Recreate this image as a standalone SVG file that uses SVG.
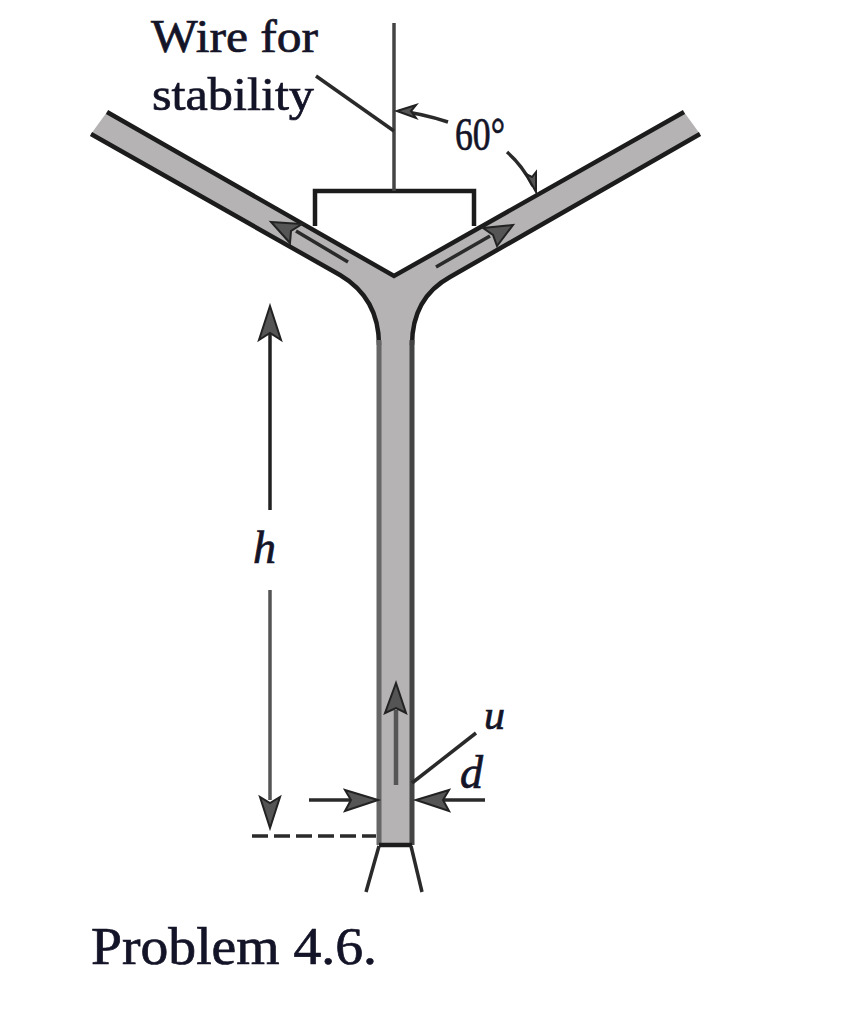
<svg xmlns="http://www.w3.org/2000/svg" width="843" height="1024" viewBox="0 0 843 1024">
<style>
.l{fill:none;stroke:#1c1c1c;stroke-width:4.5}
.t{fill:none;stroke:#2a2a2a;stroke-width:3.5}
.h{fill:#555;stroke:#222;stroke-width:2}
text{font-family:"Liberation Serif",serif;fill:#141428;stroke:#141428;stroke-width:.7}
</style>
<rect width="843" height="1024" fill="#fff"/>
<g id="nozzle-y">
<path d="M107 112L394 276L684 112L700 134L450 277Q412 298 412 345L412 845L379 845L379 345Q379 298 340 275L91 134Z" fill="#b5b3b3"/>
<path class="l" d="M107 112L394 276L684 112"/>
<path class="l" d="M91 134L340 275Q379 298 379 345"/>
<path class="l" d="M700 134L450 277Q412 298 412 345"/>
<path d="M379 340V845" stroke="#666" stroke-width="5" fill="none"/>
<path d="M412 340V845" stroke="#444" stroke-width="5" fill="none"/>
<path class="l" d="M379 845H412"/>
</g>
<g id="plate">
<path class="l" d="M315 226V191H474V226"/>
<path d="M394 23V191" stroke="#444" stroke-width="3.5" fill="none"/>
</g>
<g id="connectors">
<path class="t" d="M316 76L394 131"/>
<path class="t" d="M399 111Q420 113 448 122"/>
<path class="h" d="M397 111L416 105L411 111L416 118Z"/>
<path class="t" d="M507 152Q522 165 533 186"/>
<path class="h" d="M536 192L526 174L532 177L536 172Z"/>
<path class="t" d="M296 231L348 262"/>
<path class="h" d="M271 222L302 224L291 231L290 243Z"/>
<path class="t" d="M436 267L490 236"/>
<path class="h" d="M513 225L483 228L493 235L497 246Z"/>
<path d="M270 510V330" stroke="#222" stroke-width="3.5" fill="none"/>
<path class="h" d="M270 306L281 340L270 333L259 340Z"/>
<path d="M270 590V800" stroke="#555" stroke-width="3.5" fill="none"/>
<path class="h" d="M270 828L260 797L270 803L280 797Z"/>
<path d="M396 710V785" stroke="#555" stroke-width="4.5" fill="none"/>
<path class="h" d="M396 683L406 713L396 708L385 713Z"/>
<path class="t" d="M412 783L476 733"/>
<path class="t" d="M309 800H372"/>
<path class="h" d="M378 800L345 790L351 800L345 811Z"/>
<path class="t" d="M422 800H485"/>
<path class="h" d="M416 800L449 790L443 800L449 811Z"/>
<path class="t" d="M252 836H376" stroke-dasharray="16 6"/>
<path class="t" d="M379 846L366 892"/>
<path class="t" d="M411 846L422 892"/>
</g>
<g id="labels">
<text x="151" y="52" font-size="46" textLength="167" lengthAdjust="spacingAndGlyphs">Wire for</text>
<text x="152" y="110" font-size="46" textLength="162" lengthAdjust="spacingAndGlyphs">stability</text>
<text x="455" y="150" font-size="46" textLength="50" lengthAdjust="spacingAndGlyphs">60°</text>
<text x="253" y="563" font-size="46" font-style="italic">h</text>
<text x="484" y="729" font-size="42" font-style="italic">u</text>
<text x="460" y="788" font-size="46" font-style="italic">d</text>
<text x="91" y="964" font-size="52" textLength="286" lengthAdjust="spacingAndGlyphs">Problem 4.6.</text>
</g>
</svg>
